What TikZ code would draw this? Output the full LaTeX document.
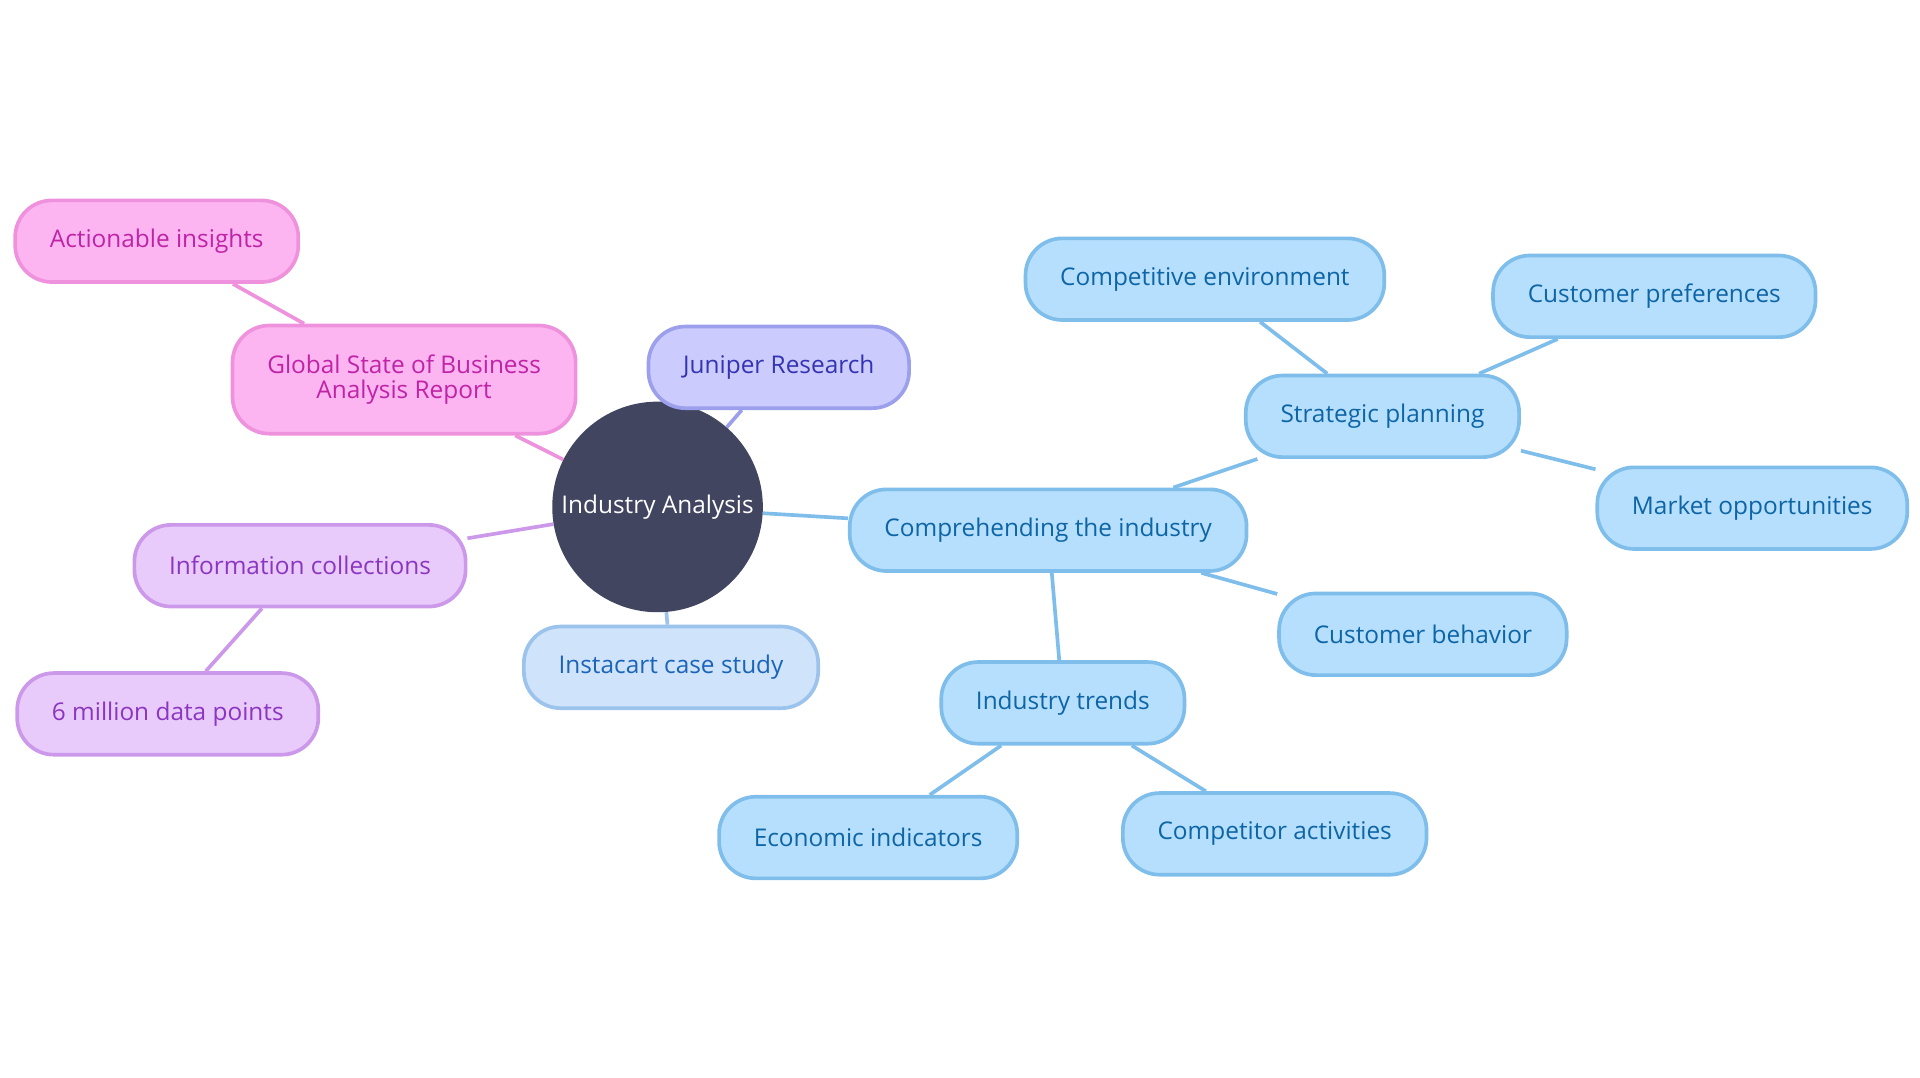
\documentclass[tikz,border=0pt]{standalone}
\usepackage{fontspec}
\setmainfont{Open Sans}
\usetikzlibrary{positioning}
\pgfdeclarelayer{background}
\pgfsetlayers{background,main}
\definecolor{centerfill}{HTML}{414560}
\definecolor{bluefill}{HTML}{B5DFFC}
\definecolor{blueline}{HTML}{7FBEEA}
\definecolor{bluetext}{HTML}{0E65A6}
\definecolor{pinkfill}{HTML}{FDB5F1}
\definecolor{pinkline}{HTML}{EE92DD}
\definecolor{pinktext}{HTML}{BF23A6}
\definecolor{purpfill}{HTML}{E8CBFB}
\definecolor{purpline}{HTML}{CC98E9}
\definecolor{purptext}{HTML}{8C35C0}
\definecolor{junifill}{HTML}{CBCCFD}
\definecolor{juniline}{HTML}{9C9FEB}
\definecolor{junitext}{HTML}{3333B3}
\definecolor{instfill}{HTML}{CFE3FB}
\definecolor{instline}{HTML}{9BC3EC}
\definecolor{insttext}{HTML}{1B64B7}
\tikzset{
  topic/.style={rounded corners=9mm, line width=0.9mm, minimum height=20mm,
    inner xsep=8.5mm, font=\fontsize{17}{20}\selectfont, align=center},
  blue/.style={topic, draw=blueline, fill=bluefill, text=bluetext},
  pink/.style={topic, draw=pinkline, fill=pinkfill, text=pinktext},
  purp/.style={topic, draw=purpline, fill=purpfill, text=purptext},
  juni/.style={topic, draw=juniline, fill=junifill, text=junitext},
  inst/.style={topic, draw=instline, fill=instfill, text=insttext},
  link/.style={line width=0.9mm}
}
\begin{document}
\begin{tikzpicture}[x=0.3mm,y=-0.3mm]
  \useasboundingbox (0,0) rectangle (1568,880);
  \node[circle, fill=centerfill, minimum size=51.6mm, text=white,
        font=\fontsize{17}{20}\selectfont] (ia) at (537,414) {Industry Analysis};
  \node[blue] (comp) at (856,433) {Comprehending the industry};
  \node[blue] (strat) at (1129,340) {Strategic planning};
  \node[blue] (env) at (984,228) {Competitive environment};
  \node[blue] (pref) at (1351,242) {Customer preferences};
  \node[blue] (market) at (1431,415) {Market opportunities};
  \node[blue] (behav) at (1162,518) {Customer behavior};
  \node[blue] (trends) at (868,574) {Industry trends};
  \node[blue] (econ) at (709,684) {Economic indicators};
  \node[blue] (rivals) at (1041,681) {Competitor activities};
  \node[inst] (insta) at (548,545) {Instacart case study};
  \node[juni] (juniper) at (636,300) {Juniper Research};
  \node[pink, minimum height=26.5mm] (report) at (330,310) {Global State of Business\\[-3pt]Analysis Report};
  \node[pink] (insight) at (128,197) {Actionable insights};
  \node[purp] (info) at (245,462) {Information collections};
  \node[purp] (points) at (137,583) {6 million data points};
  \begin{pgfonlayer}{background}
    \draw[link, blueline] (ia) -- (comp);
    \draw[link, blueline] (comp) -- (strat);
    \draw[link, blueline] (comp) -- (behav);
    \draw[link, blueline] (comp) -- (trends);
    \draw[link, blueline] (strat) -- (env);
    \draw[link, blueline] (strat) -- (pref);
    \draw[link, blueline] (strat) -- (market);
    \draw[link, blueline] (trends) -- (econ);
    \draw[link, blueline] (trends) -- (rivals);
    \draw[link, instline] (ia) -- (insta);
    \draw[link, juniline] (ia) -- (juniper);
    \draw[link, pinkline] (ia) -- (report);
    \draw[link, pinkline] (report) -- (insight);
    \draw[link, purpline] (ia) -- (info);
    \draw[link, purpline] (info) -- (points);
  \end{pgfonlayer}
\end{tikzpicture}
\end{document}
